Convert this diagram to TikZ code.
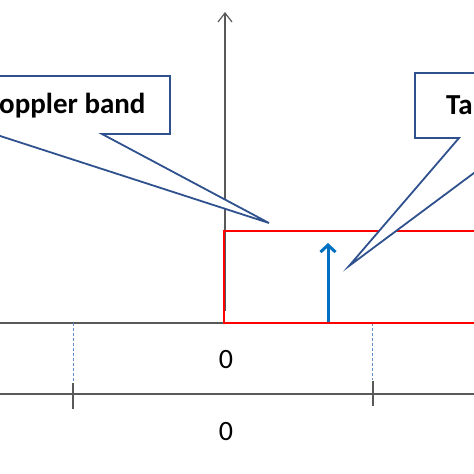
\documentclass[tikz,border=0pt]{standalone}
\usepackage{fontspec}
\setmainfont{Carlito}
\usetikzlibrary{arrows.meta}
\definecolor{axisgray}{RGB}{89,89,89}
\definecolor{calloutblue}{RGB}{47,82,143}
\definecolor{arrowblue}{RGB}{0,112,192}
\definecolor{dashblue}{RGB}{100,140,200}
\tikzset{
  axisline/.style={draw=axisgray, line width=1.2pt},
  callout/.style={draw=calloutblue, line width=1.8pt, fill=white, line join=miter},
  dashline/.style={draw=dashblue, line width=0.9pt, dash pattern=on 3pt off 2pt},
  bandbox/.style={draw=red, line width=2pt},
  calltext/.style={font=\fontsize{29}{31}\selectfont\bfseries, inner sep=0pt, anchor=base west},
  zerolabel/.style={font=\fontsize{28}{30}\selectfont, inner sep=0pt},
}
\begin{document}
\begin{tikzpicture}[x=1pt,y=-1pt]
\useasboundingbox (0,0) rectangle (474,474);
\clip (0,0) rectangle (474,474);
% axes
\coordinate (axL) at (0,323);
\coordinate (axR) at (474,323);
\coordinate (org) at (225,323);
\coordinate (top) at (225,12);
\draw[axisline] (axL) -- (axR);
\draw[axisline, -{Straight Barb[length=9pt,width=14pt,line width=1.2pt]}] ([yshift=12pt]org) -- (top);
\coordinate (ax2L) at (0,394);
\coordinate (ax2R) at (474,394);
\draw[axisline] (ax2L) -- (ax2R);
% ticks
\coordinate (t2a) at (73,383);
\coordinate (t2b) at (73,409);
\coordinate (t3a) at (373,381);
\coordinate (t3b) at (373,406);
\draw[axisline] (t2a) -- (t2b);
\draw[axisline] (t3a) -- (t3b);
% dashed
\coordinate (d1a) at (73,323);
\coordinate (d1b) at (73,381);
\coordinate (d2a) at (372,323);
\coordinate (d2b) at (372,380);
\draw[dashline] (d1a) -- (d1b);
\draw[dashline] (d2a) -- (d2b);
% red band
\draw[bandbox] (500,231) -- (224,231) -- (224,323) -- (500,323);
% blue arrow
\coordinate (ba) at (328,322);
\coordinate (bb) at (328,243);
\draw[draw=arrowblue, line width=3pt, -{Straight Barb[length=7pt,width=15pt,line width=3pt]}] (ba) -- (bb);
% left callout
\draw[callout] (-60,76) -- (170,76) -- (170,134) -- (102,134) -- (269,223) -- (-6,134) -- (-60,134) -- cycle;
\node[calltext] (lt) at (-1,113) {oppler band};
% right callout
\draw[callout] (415,73) -- (540,73) -- (540,138) -- (521,138) -- (349,266) -- (459,138) -- (415,138) -- cycle;
\node[calltext] (rt) at (446,114) {Ta};
% labels
\node[zerolabel] (z1) at (226,360) {0};
\node[zerolabel] (z2) at (226,432) {0};
\end{tikzpicture}
\end{document}
